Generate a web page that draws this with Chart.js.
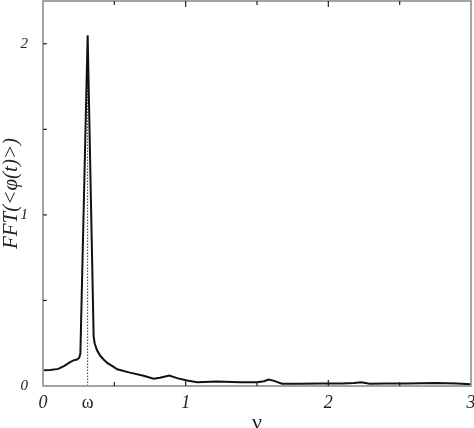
<!DOCTYPE html>
<html>
<head>
<meta charset="utf-8">
<script src="https://cdn.jsdelivr.net/npm/chart.js@4/dist/chart.umd.min.js"></script>
<style>
  html, body { margin: 0; padding: 0; background: #fff; }
  #wrap { width: 474px; height: 428px; }
</style>
</head>
<body>
<div id="wrap"><canvas id="fftChart"></canvas></div>
<script>
// frequency nu and spectrum values
const nuValues = [0, 0.05, 0.107, 0.15, 0.19, 0.214, 0.238, 0.254, 0.262, 0.313, 0.355, 0.362, 0.378, 0.40, 0.425,
  0.45, 0.495, 0.52, 0.61, 0.705, 0.775, 0.82, 0.885, 0.94, 1.01, 1.08, 1.22, 1.38, 1.5, 1.55, 1.58, 1.62, 1.675,
  1.8, 1.95, 2.1, 2.18, 2.23, 2.29, 2.4, 2.55, 2.75, 2.9, 3.0];
const fftValues = [0.092, 0.093, 0.1, 0.118, 0.14, 0.15, 0.155, 0.165, 0.19, 2.05, 0.29, 0.25, 0.21, 0.178, 0.155,
  0.135, 0.112, 0.098, 0.078, 0.06, 0.043, 0.048, 0.061, 0.046, 0.032, 0.022, 0.026, 0.022, 0.022, 0.028, 0.038, 0.03, 0.013,
  0.013, 0.014, 0.015, 0.018, 0.022, 0.013, 0.014, 0.015, 0.017, 0.014, 0.01];

const omega = 0.313;
const omegaMarkY = [0, 2.0];
const xTickValues = [0, omega, 1, 2, 3];
const xMinorTicks = [0.5, 1, 1.5, 2, 2.5];
const yTickValues = [0, 1, 2];
const yMinorTicks = [0.5, 1, 1.5, 2];

const serif = "'Liberation Serif', 'DejaVu Serif', serif";

// frame and inward tick marks, placed through the scales
const framePlugin = {
  id: 'frame',
  afterDatasetsDraw(chart) {
    const { ctx, chartArea: a, scales } = chart;
    ctx.save();
    ctx.strokeStyle = '#9a9a9a';
    ctx.lineWidth = 1.8;
    ctx.strokeRect(a.left, a.top, a.right - a.left, a.bottom - a.top);
    ctx.strokeStyle = '#222';
    ctx.lineWidth = 1.2;
    xMinorTicks.forEach(v => {
      const px = scales.x.getPixelForValue(v);
      const len = Number.isInteger(v) ? 6 : 4;
      ctx.beginPath();
      ctx.moveTo(px, a.bottom); ctx.lineTo(px, a.bottom - len);
      ctx.moveTo(px, a.top); ctx.lineTo(px, a.top + len);
      ctx.stroke();
    });
    yMinorTicks.forEach(v => {
      const py = scales.y.getPixelForValue(v);
      ctx.beginPath();
      ctx.moveTo(a.left, py); ctx.lineTo(a.left + 4, py);
      ctx.stroke();
    });
    ctx.restore();
  }
};

const chart = new Chart(document.getElementById('fftChart'), {
  type: 'line',
  data: {
    datasets: [{
      data: nuValues.map((v, i) => ({ x: v, y: fftValues[i] })),
      borderColor: '#111',
      borderWidth: 2,
      pointRadius: 0,
      tension: 0
    }, {
      data: omegaMarkY.map(v => ({ x: omega, y: v })),
      borderColor: '#333',
      borderWidth: 1,
      borderDash: [1.5, 1.5],
      pointRadius: 0
    }]
  },
  options: {
    responsive: true,
    maintainAspectRatio: false,
    animation: { duration: 0 },
    layout: { padding: { top: 1, right: 3, left: 0, bottom: 0 } },
    plugins: { legend: { display: false }, tooltip: { enabled: false } },
    scales: {
      x: {
        type: 'linear', min: 0, max: 3,
        grid: { display: false, drawTicks: false },
        border: { display: false },
        afterBuildTicks: s => { s.ticks = xTickValues.map(v => ({ value: v })); },
        afterFit: s => { s.height = 42; s.paddingLeft = 0; s.paddingRight = 0; },
        ticks: {
          autoSkip: false, maxRotation: 0, padding: 6, color: '#222',
          callback: v => (v === omega ? 'ω' : String(v)),
          font: c => ({ family: serif, size: 18, style: c.tick && c.tick.value === omega ? 'normal' : 'italic' })
        },
        title: {
          display: true, text: 'ν', color: '#222',
          font: { family: serif, size: 22 },
          padding: { top: 0, bottom: -8 }
        }
      },
      y: {
        type: 'linear', min: 0, max: 2.25,
        grid: { display: false, drawTicks: false },
        border: { display: false },
        afterBuildTicks: s => { s.ticks = yTickValues.map(v => ({ value: v })); },
        afterFit: s => { s.width = 43; s.paddingTop = 0; s.paddingBottom = 0; },
        ticks: {
          padding: 15, color: '#222',
          font: { family: serif, size: 15, style: 'italic' }
        },
        title: {
          display: true, text: 'FFT(<φ(t)>)', color: '#222',
          font: { family: serif, size: 21, style: 'italic' },
          padding: { top: -1, bottom: 0 }
        }
      }
    }
  },
  plugins: [framePlugin]
});
</script>
</body>
</html>
